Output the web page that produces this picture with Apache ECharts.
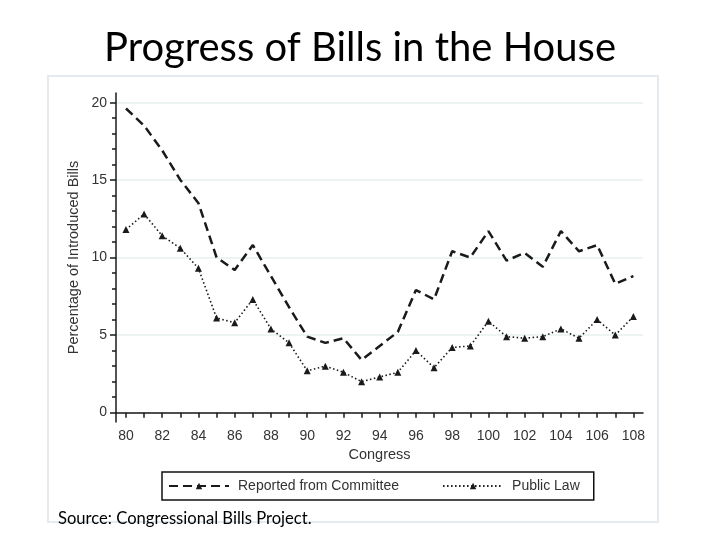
<!DOCTYPE html>
<html>
<head>
<meta charset="utf-8">
<title>Progress of Bills in the House</title>
<script src="https://cdn.jsdelivr.net/npm/echarts@6/dist/echarts.min.js"></script>
<style>
html, body { margin: 0; padding: 0; background: #fff; }
#main { width: 720px; height: 540px; }
</style>
</head>
<body>
<div id="main"></div>
<script>
// 数据 ------------------
var congress = [80, 81, 82, 83, 84, 85, 86, 87, 88, 89, 90, 91, 92, 93, 94,
	95, 96, 97, 98, 99, 100, 101, 102, 103, 104, 105, 106, 107, 108];
var reported = [19.6, 18.5, 16.9, 15.0, 13.5, 10.0, 9.2, 10.8, 8.8, 6.8, 4.9, 4.5, 4.8, 3.4, 4.3,
	5.2, 7.9, 7.3, 10.4, 10.0, 11.7, 9.8, 10.3, 9.4, 11.7, 10.4, 10.8, 8.3, 8.8];
var publicLaw = [11.8, 12.8, 11.4, 10.6, 9.3, 6.1, 5.8, 7.3, 5.4, 4.5, 2.7, 3.0, 2.6, 2.0, 2.3,
	2.6, 4.0, 2.9, 4.2, 4.3, 5.9, 4.9, 4.8, 4.9, 5.4, 4.8, 6.0, 5.0, 6.2];
var xLabelValues = [80, 82, 84, 86, 88, 90, 92, 94, 96, 98, 100, 102, 104, 106, 108];
var xTickValues = congress;

var seriesNames = ['Reported from Committee', 'Public Law'];

function pairs(xs, ys) {
	var out = [];
	for (var i = 0; i < xs.length; i++) {
		out.push([xs[i], ys[i]]);
	}
	return out;
}

var chart = echarts.init(document.getElementById('main'), null, { renderer: 'canvas' });

var axisFont = 'Liberation Sans';
var inkColor = '#1a1a1a';
var textColor = '#333';

var option = {
	backgroundColor: '#fff',
	animation: false,
	title: [{
		text: 'Progress of Bills in the House',
		left: 'center',
		top: 23,
		textStyle: { fontFamily: 'Lato', fontSize: 40, fontWeight: 'normal', color: '#000' }
	}, {
		text: 'Source: Congressional Bills Project.',
		left: 53,
		top: 505,
		textStyle: { fontFamily: 'Lato', fontSize: 16.6, fontWeight: 'normal', color: '#000' }
	}],
	// 图片边框
	graphic: [{
		type: 'rect',
		shape: { x: 48, y: 76, width: 610, height: 446 },
		style: { fill: 'none', stroke: '#e4eaee', lineWidth: 2 },
		z: -1
	}],
	legend: {
		data: seriesNames,
		left: 162,
		top: 472,
		orient: 'horizontal',
		itemWidth: 60,
		itemHeight: 8,
		itemGap: 43,
		padding: [7, 14, 7, 6],
		borderColor: '#111',
		borderWidth: 1.5,
		textStyle: { fontFamily: axisFont, fontSize: 14, color: textColor, padding: [0, 0, 0, 4] },
		selectedMode: false
	},
	grid: [{
		// 主坐标系 (轴线)
		left: 116, right: 77, top: 93, bottom: 118,
		containLabel: false
	}, {
		// 网格线与纵轴刻度 (0-20)
		left: 116, right: 77, top: 102.7, bottom: 127.7,
		containLabel: false
	}],
	xAxis: [{
		type: 'value',
		gridIndex: 0,
		min: 79.45,
		max: 108.53,
		name: 'Congress',
		nameLocation: 'middle',
		nameGap: 25,
		nameTextStyle: { fontFamily: axisFont, fontSize: 14.5, color: textColor },
		axisLine: { show: true, lineStyle: { color: inkColor, width: 1.5 } },
		axisTick: { show: true, length: 5, customValues: xTickValues, lineStyle: { color: inkColor, width: 1.5 } },
		axisLabel: { show: true, customValues: xLabelValues, margin: 7, fontFamily: axisFont, fontSize: 14, color: textColor },
		splitLine: { show: false }
	}, {
		type: 'value',
		gridIndex: 1,
		min: 0,
		max: 1,
		show: false
	}],
	yAxis: [{
		type: 'value',
		gridIndex: 0,
		min: -0.6,
		max: 20.6,
		name: 'Percentage of Introduced Bills',
		nameLocation: 'middle',
		nameGap: 35,
		nameTextStyle: { fontFamily: axisFont, fontSize: 14.5, color: textColor },
		axisLine: { show: true, lineStyle: { color: inkColor, width: 1.5 } },
		axisTick: { show: false },
		axisLabel: { show: false },
		splitLine: { show: false }
	}, {
		type: 'value',
		gridIndex: 1,
		min: 0,
		max: 20,
		interval: 5,
		axisLine: { show: false },
		axisTick: { show: true, length: 6, lineStyle: { color: inkColor, width: 1.5 } },
		minorTick: { show: true, splitNumber: 5, length: 4, lineStyle: { color: inkColor, width: 1.5 } },
		axisLabel: { show: true, margin: 9, fontFamily: axisFont, fontSize: 14, color: textColor },
		splitLine: { show: true, lineStyle: { color: '#e8eff1', width: 1.5 } }
	}],
	series: [{
		name: seriesNames[0],
		type: 'line',
		xAxisIndex: 0,
		yAxisIndex: 0,
		data: pairs(congress, reported),
		showSymbol: false,
		symbol: 'triangle',
		symbolSize: 5,
		itemStyle: { color: inkColor },
		lineStyle: { color: inkColor, width: 2.5, type: [9, 5] },
		z: 3
	}, {
		name: seriesNames[1],
		type: 'line',
		xAxisIndex: 0,
		yAxisIndex: 0,
		data: pairs(congress, publicLaw),
		symbol: 'triangle',
		symbolSize: 7,
		itemStyle: { color: inkColor },
		lineStyle: { color: inkColor, width: 1.6, type: [1.5, 2.5] },
		z: 3
	}]
};

chart.setOption(option);
</script>
</body>
</html>
